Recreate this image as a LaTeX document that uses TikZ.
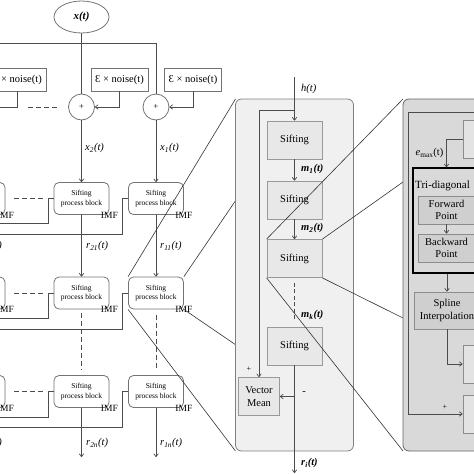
\documentclass[tikz,border=0pt]{standalone}
\usepackage{fontspec}
\setmainfont{Liberation Serif}
\usetikzlibrary{shapes.geometric,arrows.meta}

\begin{document}
\begin{tikzpicture}[x=1pt, y=1pt, yscale=-1,
    line/.style={draw=black!70, line width=0.7pt},
    arr/.style={line, -{To[length=3.5pt,width=5pt]}},
    zoomline/.style={draw=black!80, line width=0.6pt},
    lbl/.style={inner sep=0pt, font=\fontsize{10.5}{12}\selectfont},
    noisebox/.style={draw=black!55, fill=white, line width=0.8pt, minimum width=57pt, minimum height=23pt, inner sep=0pt, font=\fontsize{10.5}{12}\selectfont},
    sumnode/.style={circle, draw=black!55, fill=white, line width=0.8pt, minimum size=26pt, inner sep=0pt, font=\fontsize{9}{10}\selectfont},
    procblock/.style={draw=black!55, fill=white, rounded corners=5pt, line width=0.8pt, minimum width=55pt, minimum height=32pt, inner sep=0pt, align=center, font=\fontsize{7.5}{9.5}\selectfont},
    imf/.style={inner sep=0pt, font=\fontsize{9.5}{10}\selectfont},
    panel/.style={rounded corners=6pt, line width=0.8pt, inner sep=0pt},
    siftbox/.style={draw=black!40, fill=gray!18, line width=0.8pt, minimum width=55pt, minimum height=38pt, inner sep=0pt, align=center, font=\fontsize{10.5}{12.5}\selectfont},
    darkbox/.style={draw=black!45, fill=gray!38, line width=0.8pt, inner sep=0pt, align=center, font=\fontsize{10.5}{12.5}\selectfont}
]
    \useasboundingbox (0,0) rectangle (474,474);
    \clip (0,0) rectangle (474,474);

    % Define the positions of the ensemble columns
    \coordinate (xPos) at (81.5,17);
    \coordinate (nIPos) at (17.5,79.5);
    \coordinate (n2Pos) at (119.5,79.5);
    \coordinate (n1Pos) at (193,79.5);
    \coordinate (pIPos) at (-21,107);
    \coordinate (p2Pos) at (81.5,107);
    \coordinate (p1Pos) at (156,107);
    \coordinate (bI1Pos) at (-22.5,198.5);
    \coordinate (b21Pos) at (81.5,198.5);
    \coordinate (b11Pos) at (156,198.5);
    \coordinate (bI2Pos) at (-22.5,293);
    \coordinate (b22Pos) at (81.5,293);
    \coordinate (b12Pos) at (156,293);
    \coordinate (bInPos) at (-22.5,391.5);
    \coordinate (b2nPos) at (81.5,391.5);
    \coordinate (b1nPos) at (156,391.5);

    % Free ends of the lines
    \coordinate (topLeft) at (-5,43);
    \coordinate (in21) at (-5,223);
    \coordinate (in11) at (-5,234);
    \coordinate (in22) at (-5,318);
    \coordinate (in12) at (-5,329);
    \coordinate (in2n) at (-5,417);
    \coordinate (in1n) at (-5,427);
    \coordinate (out2) at (81.5,457);
    \coordinate (out1) at (156,457);

    % Draw the input and the noise
    \node[ellipse, draw=black!55, line width=0.8pt, minimum width=55pt, minimum height=32pt, inner sep=0pt, font=\fontsize{11}{12}\selectfont] (xt) at (xPos) {\bfseries\itshape x(t)};
    \node[noisebox] (nI) at (nIPos) {Ɛ × noise(t)};
    \node[noisebox] (n2) at (n2Pos) {Ɛ × noise(t)};
    \node[noisebox] (n1) at (n1Pos) {Ɛ × noise(t)};
    \node[sumnode] (pI) at (pIPos) {};
    \node[sumnode] (p2) at (p2Pos) {+};
    \node[sumnode] (p1) at (p1Pos) {+};

    \draw[line] (xt.south) -- (p2.north);
    \draw[line] (topLeft) -| (p1.north);
    \draw[arr] (nI.south) |- (pI.east);
    \draw[arr] (n2.south) |- (p2.east);
    \draw[arr] (n1.south) |- (p1.east);
    \draw[line, dash pattern=on 5pt off 3pt] ([xshift=36pt]pI.east) -- ([xshift=-10pt]p2.west);

    % Draw the sifting process blocks
    \foreach \r in {1,2,n}{
        \node[procblock] (bI\r) at (bI\r Pos) {};
        \node[imf] (imfI\r) at (bI\r.south east) {IMF};
        \foreach \c in {2,1}{
            \node[procblock] (b\c\r) at (b\c\r Pos) {Sifting\\process block};
            \node[imf] (imf\c\r) at (b\c\r.south east) {IMF};
        }
        \draw[line, dash pattern=on 5pt off 3pt] ([xshift=9pt]bI\r.east) -- ([xshift=-9pt]b2\r.west);
    }

    % Draw the residue lines
    \draw[arr] (pI.south) -- (bI1.north);
    \draw[arr] (p2.south) -- (b21.north);
    \draw[arr] (p1.south) -- (b11.north);
    \draw[arr] (bI1.south) -- (bI2.north);
    \draw[arr] (b21.south) -- (b22.north);
    \draw[arr] (b11.south) -- (b12.north);
    \draw[line, dash pattern=on 5pt off 3pt, shorten <=4pt, shorten >=5pt] (b22.south) -- (b2n.north);
    \draw[line, dash pattern=on 5pt off 3pt, shorten <=6pt, shorten >=5pt] (b12.south) -- (b1n.north);
    \draw[arr] (b2n.south) -- (out2);
    \draw[arr] (b1n.south) -- (out1);

    \draw[line] (b21.west) -- ++(-5,0) |- (in21);
    \draw[line] (b11.west) -- ++(-6,0) |- (in11);
    \draw[line] (b22.west) -- ++(-5,0) |- (in22);
    \draw[line] (b12.west) -- ++(-6,0) |- (in12);
    \draw[line] (b2n.west) -- ++(-5,0) |- (in2n);
    \draw[line] (b1n.west) -- ++(-6,0) |- (in1n);

    % Labels of the signals
    \node[lbl, anchor=west] (lxI) at (-19,148) {\itshape x\textsubscript{I}(t)};
    \node[lbl, anchor=west] (lx2) at (85,148) {\itshape x\textsubscript{2}(t)};
    \node[lbl, anchor=west] (lx1) at (160,148) {\itshape x\textsubscript{1}(t)};
    \node[lbl, anchor=west] (lrI1) at (-19,246) {\itshape r\textsubscript{I1}(t)};
    \node[lbl, anchor=west] (lr21) at (86,246) {\itshape r\textsubscript{21}(t)};
    \node[lbl, anchor=west] (lr11) at (160,246) {\itshape r\textsubscript{11}(t)};
    \node[lbl, anchor=west] (lrIn) at (-19,443) {\itshape r\textsubscript{In}(t)};
    \node[lbl, anchor=west] (lr2n) at (86,443) {\itshape r\textsubscript{2n}(t)};
    \node[lbl, anchor=west] (lr1n) at (160,443) {\itshape r\textsubscript{1n}(t)};

    % Define the positions of the sifting detail
    \coordinate (midPos) at (294.5,275);
    \coordinate (s1Pos) at (294.5,140);
    \coordinate (s2Pos) at (294.5,200);
    \coordinate (s3Pos) at (294.5,258.5);
    \coordinate (skPos) at (294.5,346);
    \coordinate (vmPos) at (259,396.5);
    \coordinate (hPos) at (294.5,77);
    \coordinate (hBranch) at (294.5,110);
    \coordinate (vmBranch) at (294.5,396.5);
    \coordinate (rOut) at (294.5,473);
    \coordinate (z2) at (236,200);
    \coordinate (z4) at (236,345);

    % Zoom lines to the detail
    \draw[zoomline] (b12.north west) -- (235.5,99);
    \draw[zoomline] (b12.north east) -- (z2);
    \draw[zoomline] (b12.south west) -- (235.5,451);
    \draw[zoomline] (b12.south east) -- (z4);

    % Draw the sifting detail
    \node[panel, draw=black!50, fill=gray!12, minimum width=118pt, minimum height=352pt] (mid) at (midPos) {};
    \node[siftbox] (s1) at (s1Pos) {Sifting};
    \node[siftbox] (s2) at (s2Pos) {Sifting};
    \node[siftbox] (s3) at (s3Pos) {Sifting};
    \node[siftbox] (sk) at (skPos) {Sifting};
    \node[siftbox, minimum width=41pt] (vm) at (vmPos) {Vector\\Mean};

    \draw[arr] (hPos) -- (s1.north);
    \draw[arr] (hBranch) -| (vm.north);
    \draw[arr] (s1.south) -- (s2.north);
    \draw[arr] (s2.south) -- (s3.north);
    \draw[line, dash pattern=on 4pt off 2.5pt, shorten <=5pt, shorten >=7pt] (s3.south) -- (sk.north);
    \draw[arr] (sk.south) -- (rOut);
    \draw[arr] (vmBranch) -- (vm.east);

    \node[lbl, anchor=west] (lh) at (301,89) {\itshape h(t)};
    \node[lbl, anchor=west] (lm1) at (301,169) {\bfseries\itshape m\textsubscript{1}(t)};
    \node[lbl, anchor=west] (lm2) at (301,228) {\bfseries\itshape m\textsubscript{2}(t)};
    \node[lbl, anchor=west] (lmk) at (301,315) {\bfseries\itshape m\textsubscript{k}(t)};
    \node[lbl, anchor=west] (lri) at (301,463) {\bfseries\itshape r\textsubscript{i}(t)};
    \node[lbl, font=\fontsize{8}{9}\selectfont] (plusA) at (249,369) {+};
    \node[lbl] (minusA) at (304,393) {-};

    % Define the positions of the spline detail
    \coordinate (rpPos) at (471.5,275);
    \coordinate (tbPos) at (493,139);
    \coordinate (triPos) at (446.5,220.5);
    \coordinate (fpPos) at (446.5,210);
    \coordinate (bpPos) at (446.5,248);
    \coordinate (spPos) at (447,310.5);
    \coordinate (r1Pos) at (493,364);
    \coordinate (bb2Pos) at (493,414);
    \coordinate (loopEnd) at (480,112);
    \coordinate (loopCorner) at (408,112);
    \coordinate (z6) at (403,182);
    \coordinate (z7) at (403,318);

    % Zoom lines to the spline detail
    \draw[zoomline] (s3.north west) -- (403,99);
    \draw[zoomline] (s3.north east) -- (z6);
    \draw[zoomline] (s3.south east) -- (z7);
    \draw[zoomline] (s3.south west) -- (403,451);

    % Draw the spline detail
    \node[panel, draw=black!60, fill=gray!30, minimum width=137pt, minimum height=352pt] (rp) at (rpPos) {};
    \draw[line] (loopEnd) -- (loopCorner);
    \node[darkbox, fill=gray!22, minimum width=60pt, minimum height=38pt] (tb) at (tbPos) {};
    \node[draw=black, line width=1.6pt, fill=gray!30, minimum width=67pt, minimum height=105pt, inner sep=0pt] (tri) at (triPos) {};
    \node[lbl, anchor=west, font=\fontsize{11}{12}\selectfont] (ltri) at (415,186) {Tri-diagonal};
    \node[darkbox, minimum width=57pt, minimum height=28pt] (fp) at (fpPos) {Forward\\Point};
    \node[darkbox, minimum width=57pt, minimum height=28pt] (bp) at (bpPos) {Backward\\Point};
    \node[darkbox, minimum width=66pt, minimum height=37pt] (sp) at (spPos) {Spline\\Interpolation};
    \node[darkbox, fill=gray!22, minimum width=60pt, minimum height=38pt] (r1) at (r1Pos) {};
    \node[darkbox, fill=gray!22, minimum width=60pt, minimum height=38pt] (bb2) at (bb2Pos) {};

    \draw[arr] (tb.west) -| (fp.north |- tri.north);
    \draw[arr] (fp.south) -- (bp.north);
    \draw[arr] (sp.north |- tri.south) -- (sp.north);
    \draw[arr] (sp.south) |- (r1.west);
    \draw[arr] (loopCorner) |- (bb2.west);

    \node[lbl] (lemax) at (429.5,153) {\textit{e}\textsubscript{max}(t)};
    \node[lbl, font=\fontsize{8}{9}\selectfont] (plusB) at (445,407) {+};
\end{tikzpicture}
\end{document}
